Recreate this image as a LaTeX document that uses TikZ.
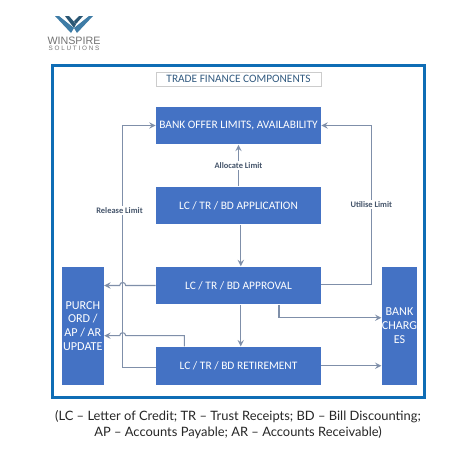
\documentclass[tikz,border=0pt]{standalone}
\usepackage{fontspec}
\setmainfont{Carlito}
\newfontfamily\capfont{Lato}
\newfontfamily\logofont{Liberation Sans}
\usetikzlibrary{calc}
\definecolor{boxblue}{HTML}{4472C4}
\definecolor{framebl}{HTML}{0F6DB5}
\definecolor{linkgray}{HTML}{7F8FA9}
\definecolor{labgray}{HTML}{44546A}
\definecolor{logobl}{HTML}{3E7CA6}
\tikzset{
  compbox/.style={fill=boxblue,text=white,inner sep=0pt,align=center,font=\fontsize{6.5}{7.8}\selectfont},
  sidebox/.style={compbox,font=\fontsize{6.9}{7.8}\selectfont},
  link/.style={draw=linkgray,line width=0.6pt},
  linkarr/.style={link,-stealth},
  linklab/.style={fill=white,inner sep=1pt,text=labgray,font=\fontsize{4.8}{5}\selectfont\bfseries}
}
\begin{document}
\begin{tikzpicture}[x=0.02cm,y=-0.02cm]
  \useasboundingbox (0,0) rectangle (474,474);
  \fill[white] (0,0) rectangle (474,474);
  % logo
  \fill[logobl] (55,16) -- (59,16) -- (74,28) -- (71,33) -- cycle;
  \fill[logobl!70!black] (65,16) -- (69,16) -- (76,24) -- (74,28) -- cycle;
  \fill[logobl] (93,16) -- (89,16) -- (74,28) -- (77,33) -- cycle;
  \fill[logobl!70!black] (83,16) -- (79,16) -- (74,21) -- (76,24) -- cycle;
  \node[text=gray!90!black,inner sep=0pt,font=\fontsize{6.1}{7}\logofont] (logoname) at (74,40.5) {WINSPIRE};
  \node[text=gray!90!black,inner sep=0pt,font=\fontsize{3.6}{4}\logofont] (logosub) at (74,48) {S O L U T I O N S};
  % frame
  \draw[framebl,line width=1.7pt] (52.5,65.5) rectangle (424.5,397.5);
  \node[draw=gray!40,line width=0.4pt,text=labgray!70!framebl,inner sep=0pt,minimum width=94pt,minimum height=8.3pt,font=\fontsize{6.45}{8}\selectfont] (title) at (238.5,79.3) {TRADE FINANCE COMPONENTS};
  % boxes
  \node[compbox,minimum width=94pt,minimum height=21.6pt] (offer) at (238.5,125.5) {BANK OFFER LIMITS, AVAILABILITY};
  \node[compbox,minimum width=94pt,minimum height=21.6pt] (appl) at (238.5,205.5) {LC / TR / BD APPLICATION};
  \node[compbox,minimum width=94pt,minimum height=21.6pt] (appr) at (238.5,285.5) {LC / TR / BD APPROVAL};
  \node[compbox,minimum width=94pt,minimum height=21.6pt] (retire) at (238.5,365.7) {LC / TR / BD RETIREMENT};
  \node[sidebox,minimum width=24pt,minimum height=67pt] (purch) at (82.8,325.7) {PURCH\\ORD /\\AP / AR\\UPDATE};
  \node[sidebox,minimum width=20.2pt,minimum height=67pt] (charges) at (399.5,325.7) {BANK\\CHARG\\ES};
  % connectors
  \coordinate (relturn) at (122.7,367.3);
  \coordinate (utilturn) at (371.3,284.3);
  \coordinate (rettop) at (184.3,335.7);
  \coordinate (apprdrop) at (279,317.7);
  \draw[linkarr] (retire.west |- relturn) -- (relturn) -- (relturn |- offer.west) -- (offer.west);
  \draw[linkarr] (appr.east |- utilturn) -- (utilturn) -- (utilturn |- offer.east) -- (offer.east);
  \draw[linkarr] (appl.north) -- (offer.south);
  \draw[linkarr] (appl.south -| 240.8,0) -- (appr.north -| 240.8,0);
  \draw[linkarr] (appr.south -| 240.8,0) -- (retire.north -| 240.8,0);
  \draw[linkarr] (apprdrop |- appr.south) -- (apprdrop) -- (apprdrop -| charges.west);
  \draw[linkarr] (retire.east) -- (charges.west |- retire.east);
  % hops over the release line
  \draw[linkarr] (appr.west) -- (125.7,285.5) .. controls (125.7,281.5) and (119.7,281.5) .. (119.7,285.5) -- (purch.east |- appr.west);
  \draw[linkarr] (rettop |- retire.north) -- (rettop) -- (125.7,335.7) .. controls (125.7,331.7) and (119.7,331.7) .. (119.7,335.7) -- (purch.east |- rettop);
  \node[linklab] (allocate) at (238.5,165.5) {Allocate Limit};
  \node[linklab] (release) at (119.5,210.5) {Release Limit};
  \node[linklab] (utilise) at (371.3,204.5) {Utilise Limit};
  % caption
  \node[inner sep=0pt,align=center,text=black!85,font=\fontsize{7.35}{9.1}\capfont] (caption) at (238,424.5) {(LC – Letter of Credit; TR – Trust Receipts; BD – Bill Discounting;\\AP – Accounts Payable; AR – Accounts Receivable)};
\end{tikzpicture}
\end{document}
